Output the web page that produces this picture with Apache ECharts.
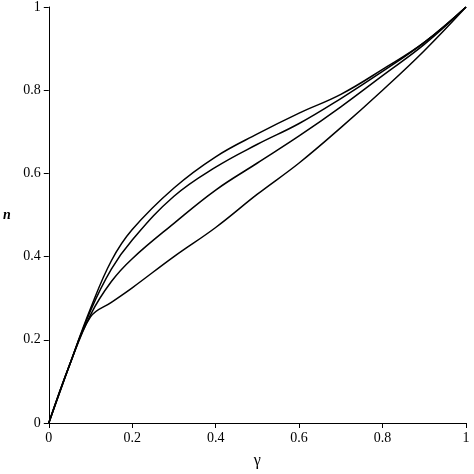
<!DOCTYPE html><html><head><meta charset="utf-8"><script src="https://cdn.jsdelivr.net/npm/echarts@6/dist/echarts.min.js"></script></head><body style="margin:0"><div id="c" style="width:474px;height:474px"></div><script>
const xs=[0,0.05,0.1,0.15,0.2,0.3,0.4,0.5,0.6,0.7,0.8,0.9,1.0];
const s1=[0,0.14,0.255,0.29,0.325,0.40,0.47,0.55,0.625,0.71,0.80,0.895,1];
const s2=[0,0.14,0.26,0.34,0.395,0.48,0.56,0.625,0.69,0.76,0.835,0.91,1];
const s3=[0,0.14,0.27,0.37,0.44,0.545,0.615,0.67,0.72,0.78,0.845,0.915,1];
const s4=[0,0.14,0.275,0.39,0.465,0.565,0.64,0.695,0.745,0.79,0.85,0.915,1];
const f='Liberation Serif';
const mk=d=>({type:'line',data:xs.map((x,i)=>[x,d[i]]),smooth:0.4,showSymbol:false,lineStyle:{color:'#000',width:1.5}});
const ax={min:0,max:1,interval:0.2,axisLine:{lineStyle:{color:'#000'}},axisTick:{lineStyle:{color:'#000'}},splitLine:{show:false},axisLabel:{color:'#000',fontFamily:f,fontSize:14,formatter:v=>String(+v.toFixed(1))}};
echarts.init(document.getElementById('c')).setOption({animation:false,
grid:{left:48,right:8,top:4,bottom:49},
xAxis:Object.assign({type:'value',name:'γ',nameLocation:'middle',nameGap:30,nameTextStyle:{color:'#000',fontFamily:f,fontSize:16}},ax),
yAxis:Object.assign({type:'value',name:'n',nameLocation:'middle',nameGap:38,nameRotate:0,nameTextStyle:{color:'#000',fontFamily:f,fontSize:14,fontStyle:'italic',fontWeight:'bold'}},ax),
series:[mk(s1),mk(s2),mk(s3),mk(s4)]});
</script></body></html>
